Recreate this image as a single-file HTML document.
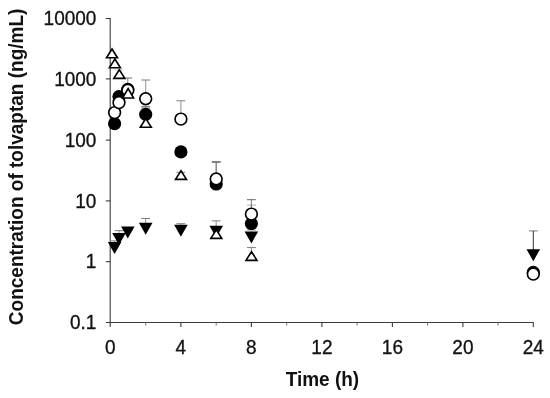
<!DOCTYPE html>
<html><head><meta charset="utf-8"><title>Concentration of tolvaptan</title>
<style>
html,body{margin:0;padding:0;background:#fff;}
body{width:550px;height:398px;overflow:hidden;}
svg{display:block;font-family:"Liberation Sans",Arial,sans-serif;}
.t{font-size:19px;fill:#111;stroke:#111;stroke-width:0.3px;}
.b{font-size:19px;font-weight:bold;fill:#111;}
</style></head><body>
<svg width="550" height="398" viewBox="0 0 550 398">
<rect width="550" height="398" fill="#fff"/>
<g stroke="#3c3c3c" stroke-width="1.1" fill="none">
<path d="M110.2 18 V323"/>
<path d="M105.8 322.5 H533.7"/>
<path d="M105.8 18.5 H110.3"/>
<path d="M105.8 78.9 H110.3"/>
<path d="M105.8 140.1 H110.3"/>
<path d="M105.8 200.9 H110.3"/>
<path d="M105.8 261.7 H110.3"/>
<path d="M110.2 322.5 V327"/>
<path d="M180.9 322.5 V327"/>
<path d="M251.4 322.5 V327"/>
<path d="M321.9 322.5 V327"/>
<path d="M392.4 322.5 V327"/>
<path d="M462.9 322.5 V327"/>
<path d="M533.3 322.5 V327"/>
</g>
<g stroke="#777" stroke-width="1" fill="none">
<path d="M145.7 322.5 V325.6"/>
<path d="M216.2 322.5 V325.6"/>
<path d="M286.7 322.5 V325.6"/>
<path d="M357.1 322.5 V325.6"/>
<path d="M427.6 322.5 V325.6"/>
<path d="M498.1 322.5 V325.6"/>
</g>
<text class="t" transform="translate(96.4 25.1) scale(1 1.07)" text-anchor="end">10000</text>
<text class="t" transform="translate(96.4 85.5) scale(1 1.07)" text-anchor="end">1000</text>
<text class="t" transform="translate(96.4 146.7) scale(1 1.07)" text-anchor="end">100</text>
<text class="t" transform="translate(96.4 207.5) scale(1 1.07)" text-anchor="end">10</text>
<text class="t" transform="translate(96.4 268.3) scale(1 1.07)" text-anchor="end">1</text>
<text class="t" transform="translate(96.4 329.1) scale(1 1.07)" text-anchor="end">0.1</text>
<text class="t" transform="translate(110.2 353.5) scale(1 1.07)" text-anchor="middle">0</text>
<text class="t" transform="translate(180.9 353.5) scale(1 1.07)" text-anchor="middle">4</text>
<text class="t" transform="translate(251.4 353.5) scale(1 1.07)" text-anchor="middle">8</text>
<text class="t" transform="translate(321.9 353.5) scale(1 1.07)" text-anchor="middle">12</text>
<text class="t" transform="translate(392.4 353.5) scale(1 1.07)" text-anchor="middle">16</text>
<text class="t" transform="translate(462.9 353.5) scale(1 1.07)" text-anchor="middle">20</text>
<text class="t" transform="translate(533.3 353.5) scale(1 1.07)" text-anchor="middle">24</text>
<text class="b" transform="translate(322.4 385.5) scale(1 1.06)" text-anchor="middle">Time (h)</text>
<text class="b" transform="translate(23.4 166.9) rotate(-90) scale(1 1.05)" text-anchor="middle">Concentration of tolvaptan (ng/mL)</text>
<path d="M123.4 78 H132.2" stroke="#707070" stroke-width="1" fill="none"/><path d="M127.8 78 V88" stroke="#707070" stroke-width="0.85" fill="none"/>
<path d="M141.3 106.4 H150.1" stroke="#7c7c7c" stroke-width="1" fill="none"/><path d="M145.7 106.4 V114" stroke="#7c7c7c" stroke-width="0.85" fill="none"/>
<path d="M211.8 161.6 H220.6" stroke="#777" stroke-width="1" fill="none"/><path d="M216.2 161.6 V183" stroke="#777" stroke-width="0.85" fill="none"/>
<path d="M247.0 205.1 H255.8" stroke="#b0b0b0" stroke-width="1" fill="none"/><path d="M251.4 205.1 V224" stroke="#b0b0b0" stroke-width="0.85" fill="none"/>
<path d="M141.3 80 H150.1" stroke="#7c7c7c" stroke-width="1" fill="none"/><path d="M145.7 80 V98" stroke="#7c7c7c" stroke-width="0.85" fill="none"/>
<path d="M176.5 100.8 H185.3" stroke="#7c7c7c" stroke-width="1" fill="none"/><path d="M180.9 100.8 V118" stroke="#7c7c7c" stroke-width="0.85" fill="none"/>
<path d="M211.8 162.4 H220.6" stroke="#777" stroke-width="1" fill="none"/><path d="M216.2 162.4 V178" stroke="#777" stroke-width="0.85" fill="none"/>
<path d="M247.0 199.7 H255.8" stroke="#666" stroke-width="1" fill="none"/><path d="M251.4 199.7 V214" stroke="#666" stroke-width="0.85" fill="none"/>
<path d="M110.2 240.9 H119.0" stroke="#7c7c7c" stroke-width="1" fill="none"/><path d="M114.6 240.9 V243" stroke="#7c7c7c" stroke-width="0.85" fill="none"/>
<path d="M114.6 230.6 H123.4" stroke="#7c7c7c" stroke-width="1" fill="none"/><path d="M119.0 230.6 V234" stroke="#7c7c7c" stroke-width="0.85" fill="none"/>
<path d="M141.3 218.5 H150.1" stroke="#7c7c7c" stroke-width="1" fill="none"/><path d="M145.7 218.5 V223" stroke="#7c7c7c" stroke-width="0.85" fill="none"/>
<path d="M176.5 223.7 H185.3" stroke="#7c7c7c" stroke-width="1" fill="none"/><path d="M180.9 223.7 V225" stroke="#7c7c7c" stroke-width="0.85" fill="none"/>
<path d="M211.8 220.9 H220.6" stroke="#7c7c7c" stroke-width="1" fill="none"/><path d="M216.2 220.9 V226" stroke="#7c7c7c" stroke-width="0.85" fill="none"/>
<path d="M247.0 230.2 H255.8" stroke="#7c7c7c" stroke-width="1" fill="none"/><path d="M251.4 230.2 V232" stroke="#7c7c7c" stroke-width="0.85" fill="none"/>
<path d="M528.9 230.9 H537.7" stroke="#8a8a8a" stroke-width="1.15" fill="none"/><path d="M533.3 230.9 V250" stroke="#2a2a2a" stroke-width="0.98" fill="none"/>
<path d="M141.3 108 H150.1" stroke="#7c7c7c" stroke-width="1" fill="none"/><path d="M145.7 108 V120" stroke="#7c7c7c" stroke-width="0.85" fill="none"/>
<path d="M176.5 172.3 H185.3" stroke="#7c7c7c" stroke-width="1" fill="none"/><path d="M180.9 172.3 V176" stroke="#7c7c7c" stroke-width="0.85" fill="none"/>
<path d="M114.6 70 H123.4" stroke="#c8c8c8" stroke-width="1" fill="none"/><path d="M119.0 70 V72" stroke="#c8c8c8" stroke-width="0.85" fill="none"/>
<path d="M247.0 247.6 H255.8" stroke="#7c7c7c" stroke-width="1" fill="none"/><path d="M251.4 247.6 V252" stroke="#7c7c7c" stroke-width="0.85" fill="none"/>
<circle cx="114.6" cy="123.7" r="6.6" fill="#000"/>
<circle cx="119.0" cy="96.6" r="6.6" fill="#000"/>
<circle cx="127.8" cy="89.4" r="6.6" fill="#000"/>
<circle cx="145.7" cy="114.4" r="6.6" fill="#000"/>
<circle cx="180.9" cy="151.9" r="6.6" fill="#000"/>
<circle cx="216.2" cy="184.0" r="6.6" fill="#000"/>
<circle cx="251.4" cy="223.6" r="6.6" fill="#000"/>
<circle cx="533.3" cy="272.3" r="6.6" fill="#000"/>
<circle cx="114.6" cy="112.6" r="5.87" fill="#fff" stroke="#000" stroke-width="1.65"/>
<circle cx="119.0" cy="102.6" r="5.87" fill="#fff" stroke="#000" stroke-width="1.65"/>
<circle cx="127.8" cy="90.3" r="5.87" fill="#fff" stroke="#000" stroke-width="1.65"/>
<circle cx="145.7" cy="98.7" r="5.87" fill="#fff" stroke="#000" stroke-width="1.65"/>
<circle cx="180.9" cy="119.1" r="5.87" fill="#fff" stroke="#000" stroke-width="1.65"/>
<circle cx="216.2" cy="179" r="5.87" fill="#fff" stroke="#000" stroke-width="1.65"/>
<circle cx="251.4" cy="214.1" r="5.87" fill="#fff" stroke="#000" stroke-width="1.65"/>
<circle cx="533.3" cy="274.1" r="5.87" fill="#fff" stroke="#000" stroke-width="1.65"/>
<path d="M107.8 242.0 H121.4 L114.6 254.0 Z" fill="#000"/>
<path d="M112.2 233.0 H125.8 L119.0 245.0 Z" fill="#000"/>
<path d="M121.0 226.5 H134.6 L127.8 238.5 Z" fill="#000"/>
<path d="M138.9 222.7 H152.5 L145.7 234.7 Z" fill="#000"/>
<path d="M174.1 224.7 H187.7 L180.9 236.7 Z" fill="#000"/>
<path d="M209.4 225.8 H223.0 L216.2 237.8 Z" fill="#000"/>
<path d="M244.6 231.4 H258.2 L251.4 243.4 Z" fill="#000"/>
<path d="M526.5 249.2 H540.1 L533.3 261.2 Z" fill="#000"/>
<path d="M112.0 49.0 L117.5 57.7 H106.5 Z" fill="#fff" stroke="#000" stroke-width="1.6" stroke-linejoin="miter"/>
<path d="M114.9 59.0 L120.4 67.7 H109.4 Z" fill="#fff" stroke="#000" stroke-width="1.6" stroke-linejoin="miter"/>
<path d="M119.3 69.7 L124.8 78.4 H113.8 Z" fill="#fff" stroke="#000" stroke-width="1.6" stroke-linejoin="miter"/>
<path d="M128.1 88.5 L133.6 98.0 H122.6 Z" fill="#fff" stroke="#000" stroke-width="1.6" stroke-linejoin="miter"/>
<path d="M145.8 118.6 L151.3 127.3 H140.3 Z" fill="#fff" stroke="#000" stroke-width="1.6" stroke-linejoin="miter"/>
<path d="M181.0 170.7 L186.5 179.4 H175.5 Z" fill="#fff" stroke="#000" stroke-width="1.6" stroke-linejoin="miter"/>
<path d="M216.3 229.7 L221.8 238.4 H210.8 Z" fill="#fff" stroke="#000" stroke-width="1.6" stroke-linejoin="miter"/>
<path d="M251.5 251.7 L257.0 260.4 H246.0 Z" fill="#fff" stroke="#000" stroke-width="1.6" stroke-linejoin="miter"/>
<path d="M247.2 230.6 H255.6" stroke="#d8d8d8" stroke-width="0.9"/>
<path d="M120.4 231.9 H124" stroke="#d0d0d0" stroke-width="0.9"/>
</svg></body></html>
